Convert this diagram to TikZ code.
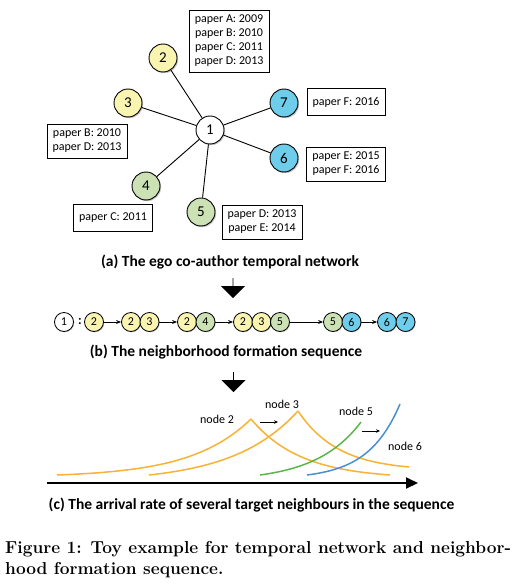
\documentclass[tikz,border=0pt]{standalone}
\usepackage{fontspec}
\setsansfont{Carlito}
\usepackage{xcolor}
\usetikzlibrary{arrows.meta,shadows,shapes.arrows}

\definecolor{nyellow}{HTML}{F9F4B0}
\definecolor{ngreen}{HTML}{CCE2B4}
\definecolor{nblue}{HTML}{6DCDEA}
\definecolor{corange}{HTML}{F9B233}
\definecolor{cgreen}{HTML}{5AB54B}
\definecolor{cblue}{HTML}{4B8FD2}

\begin{document}
\begin{tikzpicture}[
  x=1pt,y=-1pt,
  ego/.style={circle,draw,line width=0.9pt,minimum size=28pt,inner sep=0pt,
    font=\sffamily\fontsize{15}{15}\selectfont,
    drop shadow={shadow xshift=1.2pt,shadow yshift=-1.2pt,fill=black!45}},
  seq/.style={circle,draw,line width=0.8pt,minimum size=19pt,inner sep=0pt,
    font=\sffamily\fontsize{12}{12}\selectfont,
    drop shadow={shadow xshift=0.8pt,shadow yshift=-0.8pt,fill=black!45}},
  paper/.style={draw,line width=0.7pt,align=center,inner xsep=5.5pt,inner ysep=5pt,
    font=\sffamily\fontsize{12}{14}\selectfont},
  subcap/.style={font=\sffamily\bfseries\fontsize{15.5}{16}\selectfont},
  curvelab/.style={font=\sffamily\fontsize{12}{12}\selectfont},
  bigdown/.style={single arrow,fill=black,shape border rotate=270,inner sep=0pt,
    minimum height=20pt,minimum width=24pt,single arrow head extend=7.5pt},
  link/.style={line width=0.9pt},
  nxt/.style={line width=0.8pt,-{Stealth[length=5pt,width=4pt]}},
  rate/.style={line width=1.5pt},
  declare function={
    rise(\t,\a,\b,\c,\d,\k)=\b-(\b-\d)*(exp((\t-\a)/\k)-1)/(exp((\c-\a)/\k)-1);
    fall(\t,\a,\b,\c,\d,\k)=\b+(\d-\b)*(1-exp(-(\t-\a)/\k))/(1-exp(-(\c-\a)/\k));
  }
]
\useasboundingbox (0,0) rectangle (517,588);

% (a) ego network
\node[ego,fill=white] (n1) at (210,130) {1};
\node[ego,fill=nyellow] (n2) at (163,58) {2};
\node[ego,fill=nyellow] (n3) at (128,103) {3};
\node[ego,fill=ngreen] (n4) at (146,186) {4};
\node[ego,fill=ngreen] (n5) at (201,212) {5};
\node[ego,fill=nblue] (n6) at (284,158) {6};
\node[ego,fill=nblue] (n7) at (284,103) {7};

\foreach \i in {2,...,7}
  \draw[link] (n1) -- (n\i);

\node[paper] (p2) at (229,41) {paper A: 2009\\paper B: 2010\\paper C: 2011\\paper D: 2013};
\node[paper] (p3) at (87,141) {paper B: 2010\\paper D: 2013};
\node[paper,minimum height=27pt] (p4) at (113,218) {paper C: 2011};
\node[paper] (p5) at (262,222) {paper D: 2013\\paper E: 2014};
\node[paper] (p6) at (346,164) {paper E: 2015\\paper F: 2016};
\node[paper,minimum height=27pt] (p7) at (346,102) {paper F: 2016};

\node[subcap] (capa) at (230,262) {(a) The ego co-author temporal network};
\node[bigdown] (down1) at (233,288) {};

% (b) neighborhood formation sequence
\node[seq,fill=white] (s0) at (64,322) {1};
\node[font=\sffamily\bfseries\fontsize{13}{13}\selectfont] (colon) at (80,321) {:};
\node[seq,fill=nyellow] (a1) at (94,322) {2};
\node[seq,fill=nyellow] (b1) at (131,322) {2};
\node[seq,fill=nyellow] (b2) at (149.5,322) {3};
\node[seq,fill=nyellow] (c1) at (187,322) {2};
\node[seq,fill=ngreen] (c2) at (205.5,322) {4};
\node[seq,fill=nyellow] (d1) at (243,322) {2};
\node[seq,fill=nyellow] (d2) at (261.5,322) {3};
\node[seq,fill=ngreen] (d3) at (280,322) {5};
\node[seq,fill=ngreen] (e1) at (333,322) {5};
\node[seq,fill=nblue] (e2) at (351.5,322) {6};
\node[seq,fill=nblue] (f1) at (387,322) {6};
\node[seq,fill=nblue] (f2) at (405.5,322) {7};

\draw[nxt] (a1) -- (b1);
\draw[nxt] (b2) -- (c1);
\draw[nxt] (c2) -- (d1);
\draw[nxt] (d3) -- (e1);
\draw[nxt] (e2) -- (f1);

\node[subcap] (capb) at (226,352) {(b) The neighborhood formation sequence};
\node[bigdown] (down2) at (233.5,382) {};

% (c) arrival rates
\draw[rate,corange] plot[domain=57:251,samples=60] (\x,{rise(\x,57,475,251,419,60)});
\draw[rate,corange] plot[domain=251:390,samples=50] (\x,{fall(\x,251,419,390,475,50)});
\draw[rate,corange] plot[domain=149:298,samples=60] (\x,{rise(\x,149,475,298,411,65)});
\draw[rate,corange] plot[domain=298:409,samples=50] (\x,{fall(\x,298,411,409,467,40)});
\draw[rate,cgreen] plot[domain=260:361,samples=50] (\x,{rise(\x,260,475,361,422,45)});
\draw[rate,cblue] plot[domain=307:400,samples=50] (\x,{rise(\x,307,475,400,404,32)});

\node[curvelab] (l2) at (217,419) {node 2};
\node[curvelab] (l3) at (282,404) {node 3};
\node[curvelab] (l5) at (356,411) {node 5};
\node[curvelab] (l6) at (405,446) {node 6};

\coordinate (m0) at (260,422);
\coordinate (m1) at (278,422);
\coordinate (k0) at (362,431);
\coordinate (k1) at (380,431);
\draw[line width=0.7pt,-{Stealth[length=4pt,width=3.5pt]}] (m0) -- (m1);
\draw[line width=0.7pt,-{Stealth[length=4pt,width=3.5pt]}] (k0) -- (k1);

\coordinate (ax0) at (47,483);
\coordinate (ax1) at (418,483);
\draw[line width=2pt,-{Triangle[length=12pt,width=11pt]}] (ax0) -- (ax1);

\node[subcap] (capc) at (251.5,505) {(c) The arrival rate of several target neighbours in the sequence};

% figure caption
\node[anchor=west,align=left,inner sep=0pt,font=\rmfamily\bfseries\fontsize{17.3}{21}\selectfont] (fig) at (5,559.5)
  {Figure 1: Toy example for temporal network and neighbor-\\hood formation sequence.};
\end{tikzpicture}
\end{document}
